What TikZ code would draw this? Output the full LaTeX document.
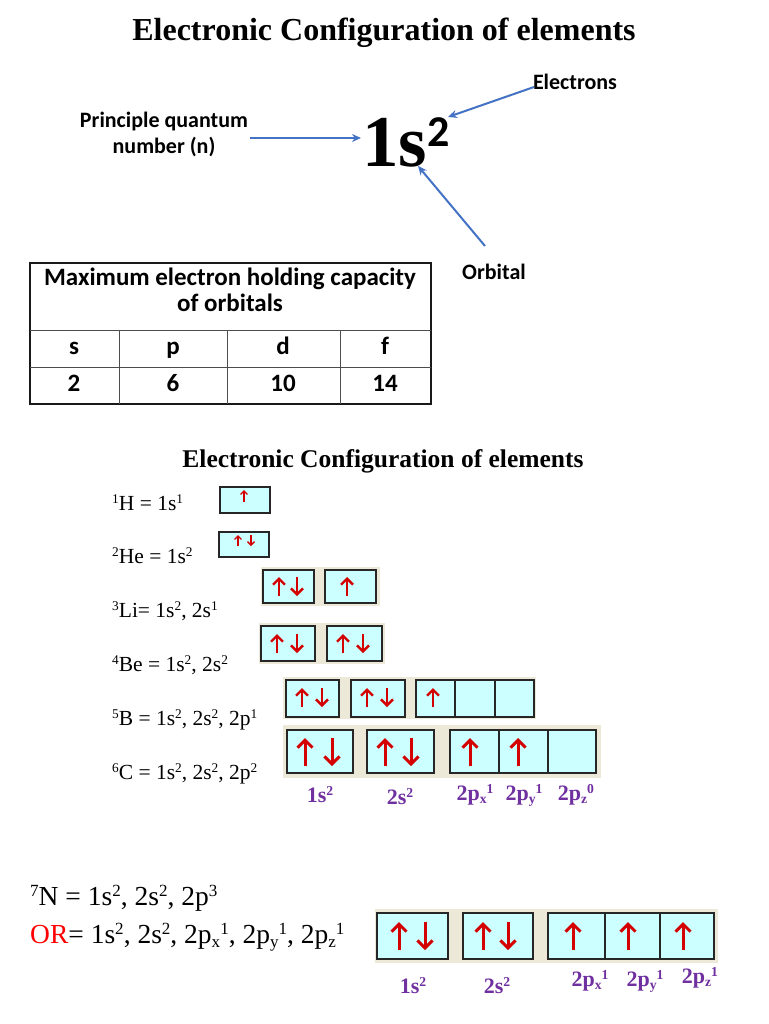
\documentclass[tikz,border=0pt]{standalone}
\usepackage{fontspec}
\setmainfont{Liberation Serif}
\newfontfamily\carl{Carlito}
\usetikzlibrary{arrows.meta,calc}
\definecolor{cyanbox}{HTML}{CCFFFF}
\definecolor{backd}{HTML}{ECE9D8}
\definecolor{elred}{HTML}{D40000}
\definecolor{ppl}{HTML}{7030A0}
\definecolor{pblue}{HTML}{4472C4}
\newcommand\spinup[4]{\draw[#4] (#1,#3) -- (#1,#2);}
\newcommand\spindn[4]{\draw[#4] (#1,#2) -- (#1,#3);}
\newcommand\spx[1]{\raisebox{0.30em}{\scalebox{0.62}{#1}}}
\newcommand\sbx[1]{\raisebox{-0.18em}{\scalebox{0.62}{#1}}}
\begin{document}
\begin{tikzpicture}[x=1pt,y=-1pt,
  obox/.style={draw=black!85, line width=1.6pt, fill=cyanbox},
  cellline/.style={draw=black!85, line width=1.2pt},
  bkd/.style={fill=backd, draw=none},
  spS/.style={draw=elred, line width=1.4pt, -{Straight Barb[length=3.5pt,width=7pt]}},
  spM/.style={draw=elred, line width=2.4pt, -{Straight Barb[length=6pt,width=12pt]}},
  spL/.style={draw=elred, line width=3pt, -{Straight Barb[length=7.5pt,width=15pt]}},
  barrow/.style={draw=pblue, line width=2pt, -{Stealth[length=9pt,width=8pt]}},
  cal/.style={font=\carl\bfseries\fontsize{22}{26}\selectfont},
  tcell/.style={anchor=base, font=\carl\bfseries\fontsize{25}{29}\selectfont},
  lab/.style={anchor=base west, inner sep=0, font=\fontsize{21.5}{25}\selectfont},
  plab/.style={anchor=base, inner sep=0, text=ppl, font=\bfseries\fontsize{22}{26}\selectfont},
  nlab/.style={anchor=base west, inner sep=0, font=\fontsize{27.5}{31}\selectfont},
]
\useasboundingbox (0,0) rectangle (768,1024);
\fill[white] (0,0) rectangle (768,1024);

% Title
\node[font=\bfseries\fontsize{32}{36}\selectfont] (title) at (384,33) {Electronic Configuration of elements};

% 1s^2
\node[anchor=base west, inner sep=0, font=\bfseries\fontsize{73}{80}\selectfont] (one) at (362,167) {1s};
\node[anchor=north west, inner sep=0, font=\carl\bfseries\fontsize{44}{48}\selectfont] (two) at (427,117) {2};

\node[cal, align=center] (pqn) at (164,134) {Principle quantum\\[0pt]number (n)};
\node[cal] (elec) at (575,82) {Electrons};
\node[cal] (orb) at (494,272) {Orbital};

\coordinate (pa) at (250,138);
\coordinate (pb) at (361,138);
\coordinate (ea) at (534,87);
\coordinate (eb) at (448,117);
\coordinate (oa) at (485,246);
\coordinate (ob) at (418,166);
\draw[barrow] (pa) -- (pb);
\draw[barrow] (ea) -- (eb);
\draw[barrow] (oa) -- (ob);

% Table
\draw[black!90, line width=1.2pt] (30,263) rectangle (431,404);
\draw[black!70, line width=1pt] (30,330) -- (431,330) (30,367) -- (431,367);
\draw[black!70, line width=1pt] (119,330) -- (119,404) (227,330) -- (227,404) (340,330) -- (340,404);
\node[font=\carl\bfseries\fontsize{25}{29}\selectfont, align=center] (thead) at (230,290) {Maximum electron holding capacity\\[-3pt]of orbitals};
\node[tcell] (ts) at (74,354) {s};
\node[tcell] (tp) at (173,354) {p};
\node[tcell] (td) at (283,354) {d};
\node[tcell] (tf) at (385,354) {f};
\node[tcell] (t2) at (74,391) {2};
\node[tcell] (t6) at (173,391) {6};
\node[tcell] (t10) at (283,391) {10};
\node[tcell] (t14) at (385,391) {14};

% Second title
\node[font=\bfseries\fontsize{25.5}{29}\selectfont] (title2) at (383,461) {Electronic Configuration of elements};

% Element labels
\node[lab] (lH) at (112,510) {\spx{1}H = 1s\spx{1}};
\node[lab] (lHe) at (112,563) {\spx{2}He = 1s\spx{2}};
\node[lab] (lLi) at (112,617) {\spx{3}Li= 1s\spx{2}, 2s\spx{1}};
\node[lab] (lBe) at (112,671) {\spx{4}Be = 1s\spx{2}, 2s\spx{2}};
\node[lab] (lB) at (112,725) {\spx{5}B = 1s\spx{2}, 2s\spx{2}, 2p\spx{1}};
\node[lab] (lC) at (112,779) {\spx{6}C = 1s\spx{2}, 2s\spx{2}, 2p\spx{2}};

% H
\draw[obox, line width=1.3pt] (220,487) rectangle (270,513);
\spinup{244}{490}{502}{spS}
% He
\draw[obox, line width=1.3pt] (219,532) rectangle (269,557);
\spinup{238}{535}{546}{spS}
\spindn{251}{535}{546}{spS}

% Li
\fill[bkd] (261,567) rectangle (380,606);
\draw[obox] (263,570) rectangle (314,603);
\draw[obox] (325,570) rectangle (376,603);
\spinup{279}{577}{596}{spM}
\spindn{297}{577}{596}{spM}
\spinup{347}{577}{596}{spM}

% Be
\fill[bkd] (259,623) rectangle (385,664);
\draw[obox] (261,626) rectangle (315,661);
\draw[obox] (327,626) rectangle (382,661);
\spinup{277}{634}{653}{spM}
\spindn{297}{634}{653}{spM}
\spinup{343}{634}{653}{spM}
\spindn{363}{634}{653}{spM}

% B
\fill[bkd] (283,677) rectangle (536,719);
\draw[obox] (286,680) rectangle (339,717);
\draw[obox] (351,680) rectangle (405,717);
\draw[obox] (416,680) rectangle (534,717);
\draw[cellline] (455,680) -- (455,717) (495,680) -- (495,717);
\spinup{302}{688}{707}{spM}
\spindn{322}{688}{707}{spM}
\spinup{367}{688}{707}{spM}
\spindn{387}{688}{707}{spM}
\spinup{433}{688}{707}{spM}

% C
\fill[bkd] (283,725) rectangle (601,778);
\draw[obox] (287,730) rectangle (353,773);
\draw[obox] (367,730) rectangle (434,773);
\draw[obox] (450,730) rectangle (596,773);
\draw[cellline] (499,730) -- (499,773) (548,730) -- (548,773);
\spinup{305}{738}{766}{spL}
\spindn{332}{738}{766}{spL}
\spinup{385}{738}{766}{spL}
\spindn{411}{738}{766}{spL}
\spinup{470}{738}{766}{spL}
\spinup{518}{738}{766}{spL}
\node[plab] (c1) at (320,802) {1s\spx{2}};
\node[plab] (c2) at (400,804) {2s\spx{2}};
\node[plab] (c3) at (475,800) {2p\sbx{x}\spx{1}};
\node[plab] (c4) at (524,800) {2p\sbx{y}\spx{1}};
\node[plab] (c5) at (576,800) {2p\sbx{z}\spx{0}};

% N
\node[nlab] (lN) at (30,905) {\spx{7}N = 1s\spx{2}, 2s\spx{2}, 2p\spx{3}};
\node[nlab] (lOR) at (30,943) {\textcolor{red}{OR}= 1s\spx{2}, 2s\spx{2}, 2p\sbx{x}\spx{1}, 2p\sbx{y}\spx{1}, 2p\sbx{z}\spx{1}};

\fill[bkd] (375,909) rectangle (718,963);
\draw[obox] (377,913) rectangle (448,959);
\draw[obox] (463,913) rectangle (533,959);
\draw[obox] (548,913) rectangle (714,959);
\draw[cellline] (605,913) -- (605,959) (660,913) -- (660,959);
\spinup{399}{922}{950}{spL}
\spindn{425}{922}{950}{spL}
\spinup{483}{922}{950}{spL}
\spindn{508}{922}{950}{spL}
\spinup{573}{922}{950}{spL}
\spinup{628}{922}{950}{spL}
\spinup{683}{922}{950}{spL}
\node[plab] (n1) at (413,993) {1s\spx{2}};
\node[plab] (n2) at (497,993) {2s\spx{2}};
\node[plab] (n3) at (590,986) {2p\sbx{x}\spx{1}};
\node[plab] (n4) at (645,986) {2p\sbx{y}\spx{1}};
\node[plab] (n5) at (700,983) {2p\sbx{z}\spx{1}};
\end{tikzpicture}
\end{document}
